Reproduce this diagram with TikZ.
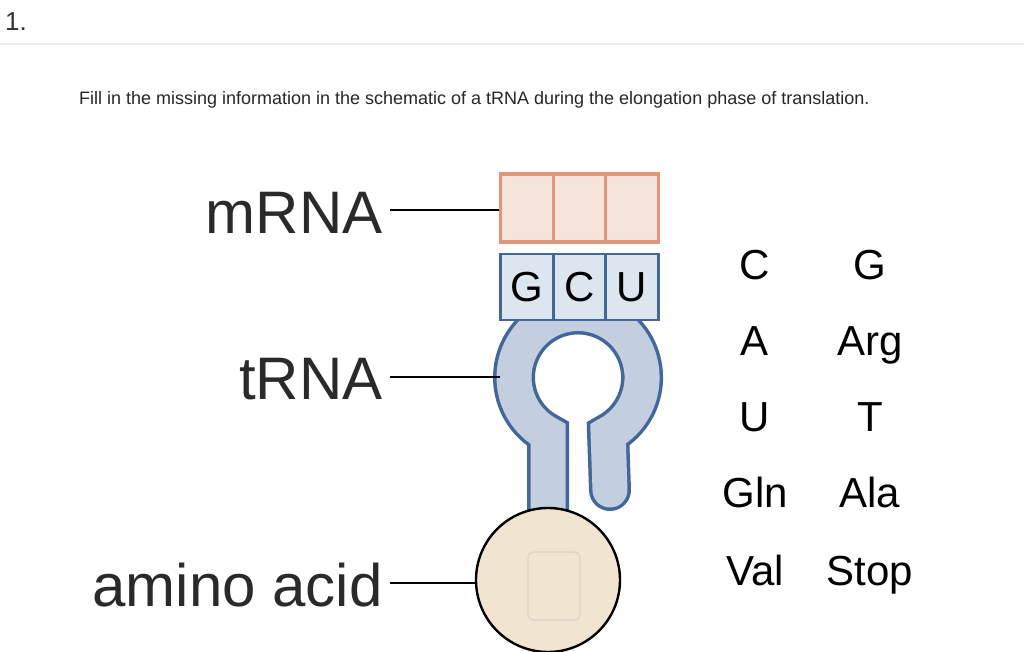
\documentclass[tikz,border=0pt]{standalone}
\usepackage{fontspec}
\setmainfont{Liberation Sans}
\definecolor{mrnafill}{HTML}{F5E4DA}
\definecolor{mrnaline}{HTML}{E0967A}
\definecolor{trnafill}{HTML}{DDE5EE}
\definecolor{trnaline}{HTML}{42679A}
\definecolor{trnabody}{HTML}{C3CEDF}
\definecolor{aafill}{HTML}{F1E5D1}
\definecolor{inkgray}{HTML}{2A2A2A}
\tikzset{
  mcell/.style={draw=mrnaline,fill=mrnafill,line width=1.6pt,minimum width=26.5pt,minimum height=34pt,inner sep=0pt},
  tcell/.style={draw=trnaline,fill=trnafill,line width=1.3pt,minimum width=26.5pt,minimum height=33pt,inner sep=0pt,font=\fontsize{21}{21}\selectfont},
  biglabel/.style={font=\fontsize{30}{30}\selectfont,anchor=base east,inner sep=0pt,text=inkgray},
  choice/.style={font=\fontsize{21}{21}\selectfont,inner sep=0pt,anchor=base},
  pointer/.style={line width=1.2pt},
}
\begin{document}
\begin{tikzpicture}[x=0.5pt,y=-0.5pt]
\useasboundingbox (0,0) rectangle (1024,652);
\node[anchor=west,font=\fontsize{13}{13}\selectfont,text=black!80] (num) at (-2,22) {1.};
\draw[black!7,line width=0.6pt] (0,44) -- (1024,44);
\node[anchor=west,font=\fontsize{9}{9}\selectfont,text=black!85] (task) at (72,100)
  {Fill in the missing information in the schematic of a tRNA during the elongation phase of translation.};
% tRNA body
\draw[trnaline,line width=21pt,line cap=round] (548,520) -- (548,434)
  arc[start angle=242,end angle=-62,radius=32pt] -- (610,490);
\draw[trnabody,line width=17.5pt,line cap=round] (548,522) -- (548,434)
  arc[start angle=242,end angle=-62,radius=32pt] -- (610,490);
% mRNA codon and anticodon
\node[mcell] (m1) at (527,208) {};
\node[mcell] (m2) at (580,208) {};
\node[mcell] (m3) at (632,208) {};
\node[tcell] (t1) at (527,287) {G};
\node[tcell] (t2) at (580,287) {C};
\node[tcell] (t3) at (632,287) {U};
% amino acid
\node[circle,draw=black,fill=aafill,line width=1.2pt,minimum size=72pt,inner sep=0pt] (aa) at (548,580) {};
\node[draw=aafill!85!black!70,fill=aafill,rounded corners=3pt,line width=0.6pt,minimum width=26pt,minimum height=34pt] (box) at (554,586) {};
% labels
\node[biglabel] (lm) at (383,234) {mRNA};
\node[biglabel] (lt) at (383,400) {tRNA};
\node[biglabel] (la) at (383,606) {amino acid};
\coordinate (mm) at (390,210);
\coordinate (tm) at (390,377);
\coordinate (am) at (390,583);
\coordinate (tt) at (500,377);
\draw[pointer] (mm) -- (m1.west |- mm);
\draw[pointer] (tm) -- (tt);
\draw[pointer] (am) -- (am -| aa.west);
% answer choices
\node[choice] (c1) at (755,280) {C};
\node[choice] (c2) at (870,280) {G};
\node[choice] (c3) at (755,356) {A};
\node[choice] (c4) at (870,356) {Arg};
\node[choice] (c5) at (755,432) {U};
\node[choice] (c6) at (870,432) {T};
\node[choice] (c7) at (755,508) {Gln};
\node[choice] (c8) at (870,508) {Ala};
\node[choice] (c9) at (755,585) {Val};
\node[choice] (c10) at (870,585) {Stop};
\end{tikzpicture}
\end{document}
